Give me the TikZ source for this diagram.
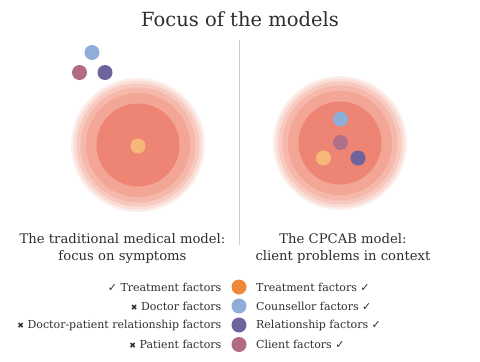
\documentclass[tikz,border=0pt]{standalone}
\usepackage{fontspec}
\setmainfont{DejaVu Serif}
\newfontfamily\symfont{DejaVu Sans}
\definecolor{txt}{HTML}{2E2E2E}
\definecolor{corg}{HTML}{F0883A}
\definecolor{corglt}{HTML}{F5B878}
\definecolor{cblue}{HTML}{8EADD8}
\definecolor{cpurp}{HTML}{6E639C}
\definecolor{cmauve}{HTML}{B26A86}
\definecolor{cmauvein}{HTML}{B0708A}
\definecolor{rA}{HTML}{FCEEEA}
\definecolor{rB}{HTML}{FADDD5}
\definecolor{rC}{HTML}{F8CABF}
\definecolor{rD}{HTML}{F6B8AA}
\definecolor{rE}{HTML}{F3A596}
\definecolor{rF}{HTML}{EE8473}
\definecolor{divc}{HTML}{CCCCCC}
\newcommand{\chk}{{\symfont\char"2713}}
\newcommand{\crs}{{\symfont\fontsize{8}{9}\selectfont\char"2716}}
\tikzset{
  dot/.style={circle, inner sep=0pt, minimum size=15pt, fill=#1},
  ttl/.style={text=txt, font=\fontsize{19.5}{24}\selectfont},
  lbl/.style={text=txt, font=\fontsize{13.2}{17}\selectfont, align=center},
  leg/.style={text=txt, font=\fontsize{11}{14}\selectfont, inner sep=0pt},
}
\newcommand{\target}[2]{%
  \fill[rA] (#1,#2) circle (67);
  \fill[rB] (#1,#2) circle (64.5);
  \fill[rC] (#1,#2) circle (61.5);
  \fill[rD] (#1,#2) circle (57.5);
  \fill[rE] (#1,#2) circle (52);
  \fill[rF] (#1,#2) circle (41.5);
}
\begin{document}
\begin{tikzpicture}[x=1pt,y=-1pt]
\useasboundingbox (0,0) rectangle (480,362);
\node[ttl] (title) at (240,19) {Focus of the models};
\coordinate (divtop) at (239,40);
\coordinate (divbot) at (239,245);
\draw[divc, line width=1pt] (divtop) -- (divbot);
% left target
\target{138}{145}
\node[dot=corglt] (lorg) at (138,146) {};
\node[dot=cblue] (lblue) at (92,52.5) {};
\node[dot=cmauve] (lmauve) at (79.5,72.5) {};
\node[dot=cpurp] (lpurp) at (105,72.5) {};
% right target
\target{340}{143}
\node[dot=cblue] (rblue) at (340.5,119) {};
\node[dot=cmauvein] (rmauve) at (340.5,142.5) {};
\node[dot=corglt] (rorg) at (323.5,158) {};
\node[dot=cpurp] (rpurp) at (358,158) {};
% captions
\node[lbl] (lcap) at (122.5,248.5) {The traditional medical model:\\focus on symptoms};
\node[lbl] (rcap) at (343,248.5) {The CPCAB model:\\client problems in context};
% legend
\node[dot=corg] (k1) at (239,287) {};
\node[dot=cblue] (k2) at (239,306) {};
\node[dot=cpurp] (k3) at (239,325) {};
\node[dot=cmauve] (k4) at (239,344.5) {};
\node[leg, anchor=east] (l1) at (221.5,287) {\chk\ Treatment factors};
\node[leg, anchor=east] (l2) at (221.5,306) {\crs\ Doctor factors};
\node[leg, anchor=east] (l3) at (221.5,325) {\crs\ Doctor-patient relationship factors};
\node[leg, anchor=east] (l4) at (221.5,344.5) {\crs\ Patient factors};
\node[leg, anchor=west] (r1) at (256,287) {Treatment factors \chk};
\node[leg, anchor=west] (r2) at (256,306) {Counsellor factors \chk};
\node[leg, anchor=west] (r3) at (256,325) {Relationship factors \chk};
\node[leg, anchor=west] (r4) at (256,344.5) {Client factors \chk};
\end{tikzpicture}
\end{document}
